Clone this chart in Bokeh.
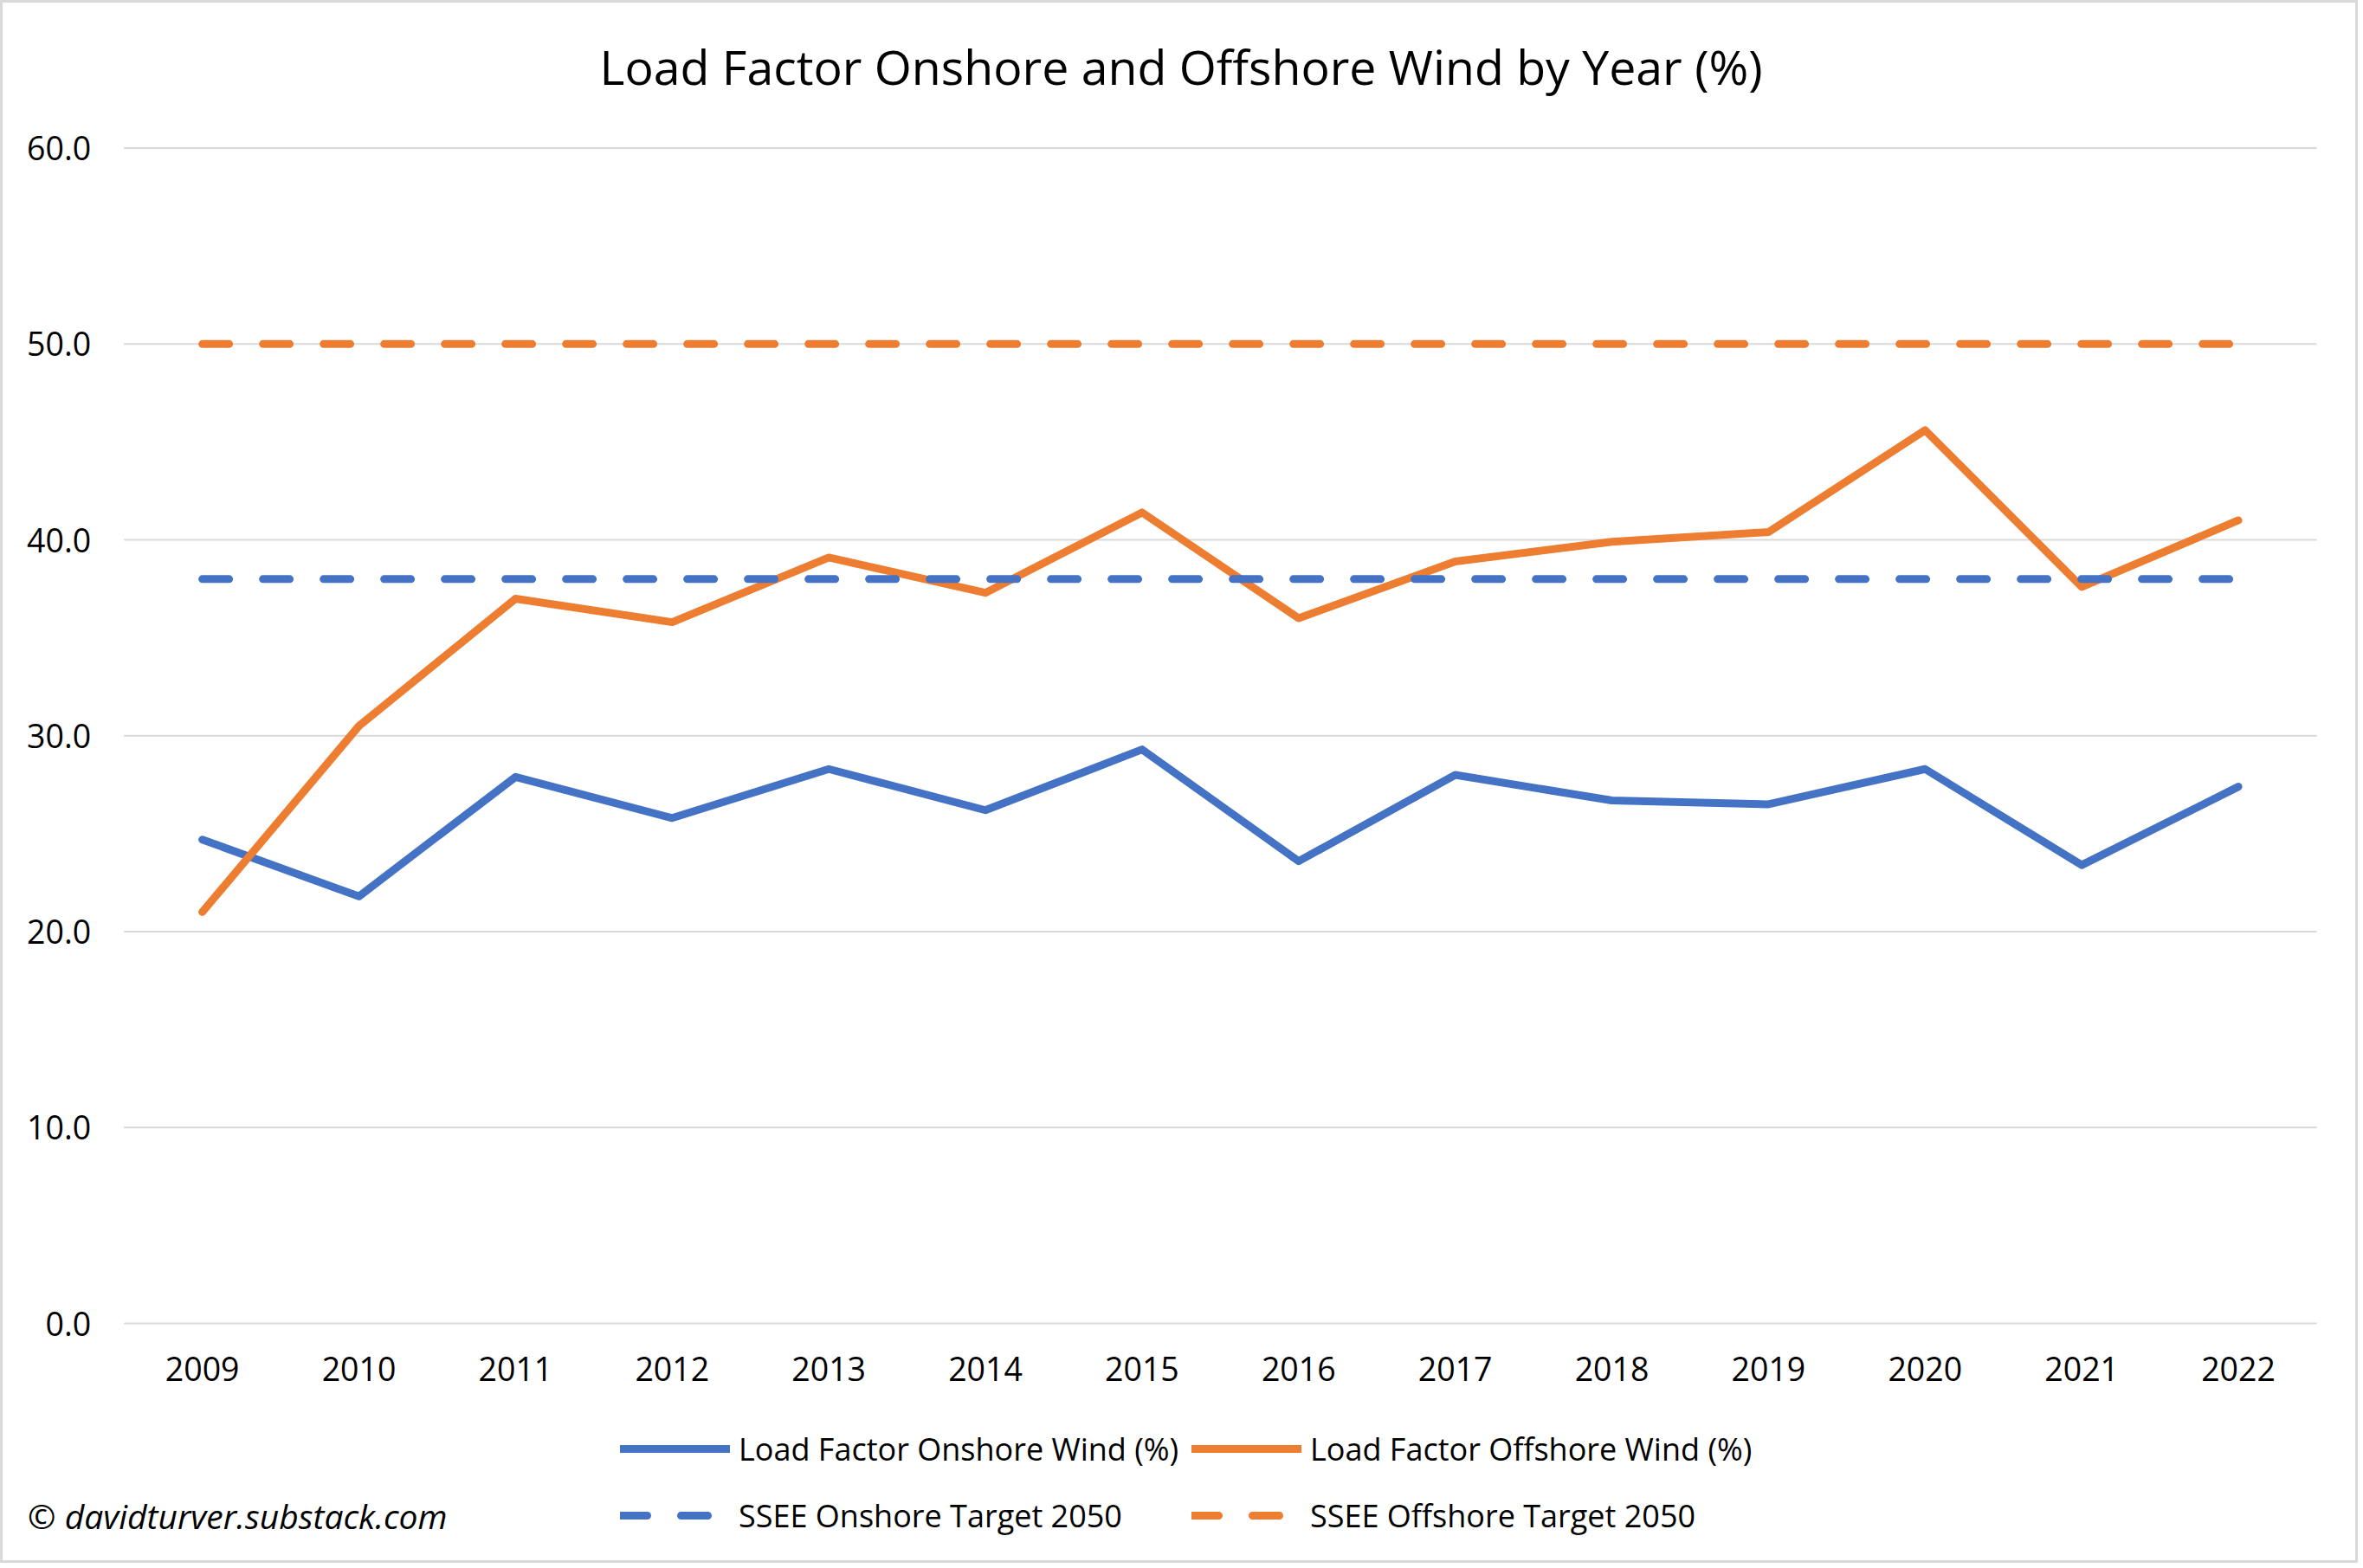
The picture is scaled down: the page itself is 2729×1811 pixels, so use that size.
from bokeh.plotting import figure
from bokeh.models import (Range1d, Legend, LegendItem, Label,
                          FixedTicker, NumeralTickFormatter, BasicTickFormatter)
from bokeh.embed import file_html
from bokeh.resources import INLINE

# ---------------- data ----------------
years = [2009, 2010, 2011, 2012, 2013, 2014, 2015,
         2016, 2017, 2018, 2019, 2020, 2021, 2022]
onshore = [24.7, 21.8, 27.9, 25.8, 28.3, 26.2, 29.3,
           23.6, 28.0, 26.7, 26.5, 28.3, 23.4, 27.4]
offshore = [21.0, 30.5, 37.0, 35.8, 39.1, 37.3, 41.4,
            36.0, 38.9, 39.9, 40.4, 45.6, 37.6, 41.0]
onshore_target = [38.0, 38.0, 38.0, 38.0, 38.0, 38.0, 38.0,
                  38.0, 38.0, 38.0, 38.0, 38.0, 38.0, 38.0]
offshore_target = [50.0, 50.0, 50.0, 50.0, 50.0, 50.0, 50.0,
                   50.0, 50.0, 50.0, 50.0, 50.0, 50.0, 50.0]
y_ticks = [0, 10, 20, 30, 40, 50, 60]

title_text = "Load Factor Onshore and Offshore Wind by Year (%)"
labels = ["Load Factor Onshore Wind (%)", "Load Factor Offshore Wind (%)",
          "SSEE Onshore Target 2050", "SSEE Offshore Target 2050"]
watermark = "\u00a9 davidturver.substack.com"

# ---------------- style / layout ----------------
BLUE = "#4472C4"
ORANGE = "#ED7D31"
GRID = "#D9D9D9"
FONT = "Open Sans"
TEXT = "#000000"
LW = 9
DASH = "31 39"

W, H = 2723, 1805          # canvas (plus 3px border each side)
FRAME_TOP = 130            # canvas y where the frame starts
TOP_PX = 167.6             # canvas y of value 60
ZERO_PX = 1525.0           # canvas y of value 0
PLOT_L, PLOT_R = 139.7, 2672.0   # plot-area edges (canvas px)

px_per_unit = (ZERO_PX - TOP_PX) / (y_ticks[-1] - y_ticks[0])
y_top = y_ticks[-1] + (TOP_PX - FRAME_TOP) / px_per_unit
y_bottom = y_ticks[0] - (H - ZERO_PX) / px_per_unit
cat_w = (PLOT_R - PLOT_L) / len(years)
first_px = PLOT_L + cat_w / 2
x_start = years[0] - first_px / cat_w
x_end = years[0] + (W - first_px) / cat_w
half = 0.5

p = figure(width=W, height=H,
           x_range=Range1d(x_start, x_end),
           y_range=Range1d(y_bottom, y_top),
           output_backend="svg", toolbar_location=None,
           min_border_left=0, min_border_right=0,
           min_border_top=FRAME_TOP, min_border_bottom=0,
           background_fill_color="white", border_fill_color="white")
p.styles = {"border": "3px solid #D9D9D9"}

p.title.text = title_text
p.title.align = "left"
p.title.offset = 689
p.title.text_font = FONT
p.title.text_font_size = "55.4px"
p.title.text_font_style = "normal"
p.title.text_color = TEXT
p.title.standoff = 40

p.outline_line_color = None
p.xgrid.visible = False
p.ygrid.visible = False

# gridlines across the plot area only
p.segment(x0=[years[0] - half] * len(y_ticks), x1=[years[-1] + half] * len(y_ticks),
          y0=y_ticks, y1=y_ticks, line_color=GRID, line_width=2)

# axes
p.yaxis.ticker = FixedTicker(ticks=y_ticks)
p.yaxis.formatter = NumeralTickFormatter(format="0.0")
p.yaxis.fixed_location = years[0] - half
p.xaxis.ticker = FixedTicker(ticks=years)
p.xaxis.formatter = BasicTickFormatter(use_scientific=False)
p.xaxis.fixed_location = y_ticks[0]
for ax in (p.xaxis[0], p.yaxis[0]):
    ax.axis_line_color = None
    ax.major_tick_line_color = None
    ax.minor_tick_line_color = None
    ax.major_tick_out = 0
    ax.major_tick_in = 0
    ax.major_label_text_font = FONT
    ax.major_label_text_font_size = "37.5px"
    ax.major_label_text_color = TEXT
p.yaxis.major_label_standoff = 38
p.xaxis.major_label_standoff = 38

# lines
r_on = p.line(years, onshore, line_color=BLUE, line_width=LW,
              line_join="round", line_cap="round")
r_off = p.line(years, offshore, line_color=ORANGE, line_width=LW,
               line_join="round", line_cap="round")
r_on_t = p.line(years, onshore_target, line_color=BLUE, line_width=LW,
                line_dash=DASH, line_cap="round")
r_off_t = p.line(years, offshore_target, line_color=ORANGE, line_width=LW,
                 line_dash=DASH, line_cap="round")

legend_kw = dict(orientation="vertical", glyph_width=127, glyph_height=50,
                 label_height=50, label_standoff=10, spacing=27, padding=0,
                 margin=0, border_line_color=None, background_fill_alpha=0,
                 label_text_font=FONT, label_text_font_size="36px",
                 label_text_color=TEXT)
leg1 = Legend(items=[LegendItem(label=labels[0], renderers=[r_on]),
                     LegendItem(label=labels[2], renderers=[r_on_t])],
              location=(713, 33), **legend_kw)
leg2 = Legend(items=[LegendItem(label=labels[1], renderers=[r_off]),
                     LegendItem(label=labels[3], renderers=[r_off_t])],
              location=(1373, 33), **legend_kw)
p.add_layout(leg1, "center")
p.add_layout(leg2, "center")

p.add_layout(Label(x=28.6, y=58, x_units="screen", y_units="screen",
                   text=watermark, text_font=FONT, text_font_size="39px",
                   text_font_style="italic", text_color=TEXT,
                   text_baseline="alphabetic", text_align="left"))

open("out.html", "w").write(file_html(p, INLINE))
